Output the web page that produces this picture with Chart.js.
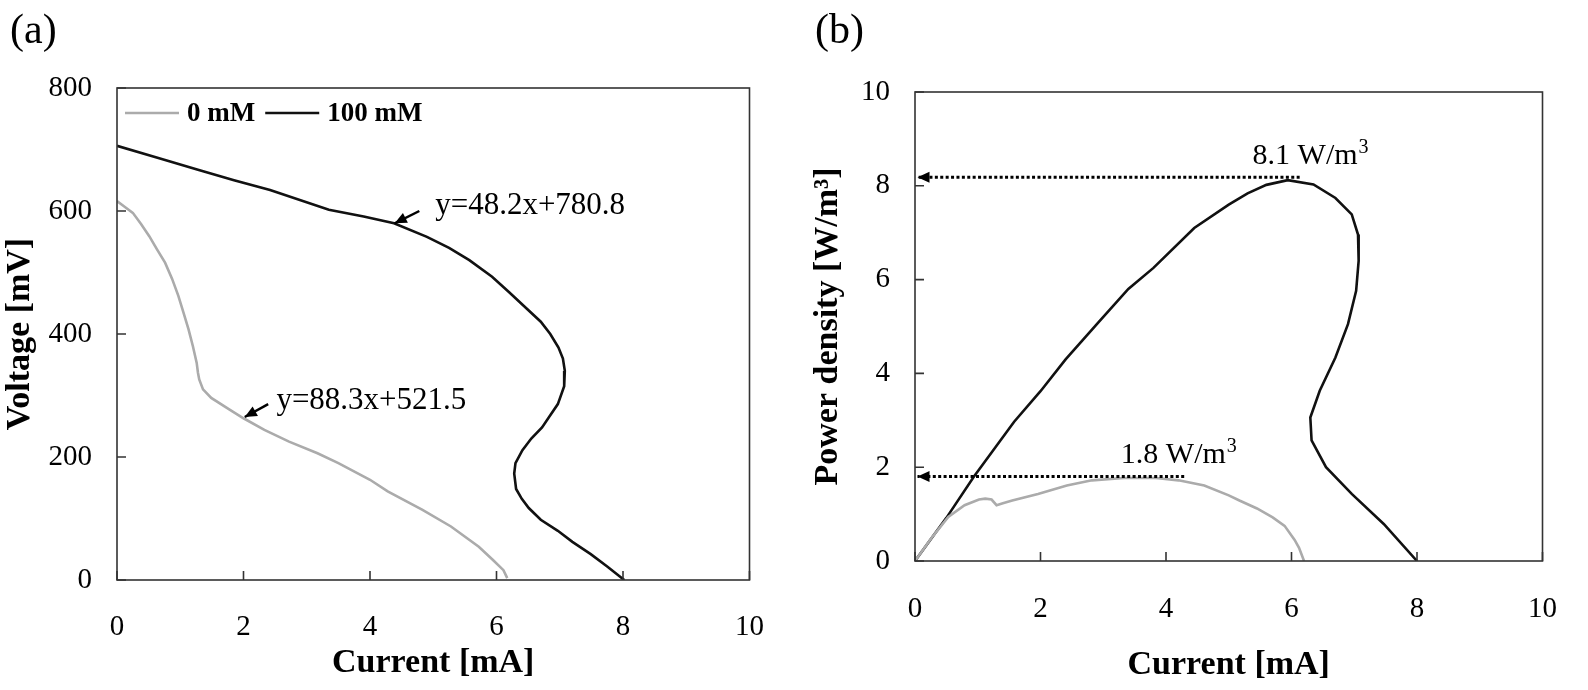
<!DOCTYPE html>
<html>
<head>
<meta charset="utf-8">
<script src="https://cdn.jsdelivr.net/npm/chart.js@4.4.0/dist/chart.umd.min.js"></script>
<style>
  html, body { margin: 0; padding: 0; background: #fff; }
  #wrap { position: relative; width: 1588px; height: 690px; }
  .panel { position: absolute; top: 0; width: 794px; height: 690px; }
</style>
</head>
<body>
<div id="wrap">
  <div class="panel" style="left:0"><canvas id="chartA" width="794" height="690"></canvas></div>
  <div class="panel" style="left:794px"><canvas id="chartB" width="794" height="690"></canvas></div>
</div>
<script>
const serif = "'Liberation Serif', 'Times New Roman', serif";

// tick values
const currentTicks = [0, 2, 4, 6, 8, 10];
const voltageTicks = [0, 200, 400, 600, 800];
const powerTicks = [0, 2, 4, 6, 8, 10];

// (a) polarization curves, current [mA] vs voltage [mV]
const current0 = [0, 0.12, 0.25, 0.38, 0.51, 0.63, 0.76, 0.87, 0.97, 1.05, 1.13, 1.2, 1.26, 1.28, 1.3, 1.36, 1.49, 1.78, 2.0, 2.33, 2.72, 3.17, 3.5, 4.0, 4.28, 4.83, 5.28, 5.72, 5.94, 6.11, 6.17];
const voltage0 = [616, 607, 597, 579, 559, 538, 516, 490, 462, 435, 408, 380, 353, 337, 326, 310, 296, 277, 263, 244, 225, 206, 190, 163, 144, 114, 87, 54, 33, 16, 3];

const current100 = [0, 0.6, 1.28, 1.85, 2.42, 3.35, 3.9, 4.38, 4.9, 5.25, 5.57, 5.93, 6.2, 6.45, 6.7, 6.85, 6.98, 7.05, 7.08, 7.07, 6.97, 6.85, 6.72, 6.55, 6.41, 6.3, 6.28, 6.31, 6.4, 6.51, 6.7, 6.97, 7.2, 7.49, 7.75, 8.02];
const voltage100 = [706, 688, 667, 650, 634, 602, 591, 580, 558, 540, 520, 493, 468, 444, 420, 400, 378, 360, 340, 315, 286, 268, 248, 230, 211, 190, 173, 148, 132, 117, 98, 80, 62, 42, 22, 0];

// (b) power density curves, current [mA] vs power density [W/m3]
const currentP0 = [0, 0.28, 0.53, 0.79, 1.02, 1.12, 1.22, 1.3, 1.4, 1.55, 1.96, 2.42, 2.82, 3.33, 3.84, 4.2, 4.61, 5.0, 5.17, 5.45, 5.7, 5.89, 6.05, 6.12, 6.2];
const power0 = [0, 0.52, 0.94, 1.19, 1.31, 1.33, 1.31, 1.19, 1.23, 1.29, 1.43, 1.61, 1.72, 1.77, 1.77, 1.72, 1.61, 1.4, 1.29, 1.12, 0.93, 0.75, 0.45, 0.28, 0];

const currentP100 = [0, 0.5, 0.94, 1.58, 2.0, 2.4, 2.93, 3.4, 3.8, 4.45, 5.0, 5.3, 5.6, 5.94, 6.35, 6.7, 6.96, 7.06, 7.07, 7.03, 6.9, 6.7, 6.45, 6.3, 6.32, 6.55, 6.96, 7.47, 8.0];
const power100 = [0, 0.92, 1.8, 2.97, 3.62, 4.3, 5.1, 5.8, 6.25, 7.1, 7.6, 7.84, 8.02, 8.12, 8.03, 7.74, 7.39, 6.96, 6.4, 5.76, 5.05, 4.34, 3.63, 3.06, 2.57, 2.0, 1.43, 0.79, 0];

const seriesLabels = ['0 mM', '100 mM'];
const grey = '#ababab';
const black = '#111';

function toPoints(xs, ys) {
    return xs.map(function(x, i) { return {x: x, y: ys[i]}; });
}

function arrowHead(ctx, x1, y1, x2, y2, len, half) {
    const a = Math.atan2(y2 - y1, x2 - x1);
    ctx.beginPath();
    ctx.moveTo(x2, y2);
    ctx.lineTo(x2 - len * Math.cos(a) + half * Math.sin(a), y2 - len * Math.sin(a) - half * Math.cos(a));
    ctx.lineTo(x2 - len * Math.cos(a) - half * Math.sin(a), y2 - len * Math.sin(a) + half * Math.cos(a));
    ctx.closePath();
    ctx.fill();
}

// frame, inward ticks, panel letter, legend and notes
function decorPlugin(cfg) {
    return {
        id: 'decor',
        afterDatasetsDraw: function(chart) {
            const ctx = chart.ctx;
            const area = chart.chartArea;
            const xs = chart.scales.x;
            const ys = chart.scales.y;
            ctx.save();

            ctx.strokeStyle = '#333';
            ctx.lineWidth = 1.6;
            ctx.strokeRect(area.left, area.top, area.right - area.left, area.bottom - area.top);

            ctx.beginPath();
            cfg.xTicks.forEach(function(v) {
                const p = xs.getPixelForValue(v);
                ctx.moveTo(p, area.bottom);
                ctx.lineTo(p, area.bottom - 9);
            });
            cfg.yTicks.forEach(function(v) {
                const p = ys.getPixelForValue(v);
                ctx.moveTo(area.left, p);
                ctx.lineTo(area.left + 9, p);
            });
            ctx.stroke();

            ctx.fillStyle = '#000';
            ctx.font = '42px ' + serif;
            ctx.textBaseline = 'alphabetic';
            ctx.fillText(cfg.letter, cfg.letterX, 43);

            if (cfg.legend) {
                const ly = area.top + 25;
                let lx = area.left + 8;
                ctx.font = 'bold 27px ' + serif;
                ctx.textBaseline = 'middle';
                chart.data.datasets.forEach(function(ds) {
                    ctx.strokeStyle = ds.borderColor;
                    ctx.lineWidth = 2.5;
                    ctx.beginPath();
                    ctx.moveTo(lx, ly);
                    ctx.lineTo(lx + 54, ly);
                    ctx.stroke();
                    ctx.fillStyle = '#000';
                    ctx.fillText(ds.label, lx + 62, ly + 1);
                    lx += 62 + ctx.measureText(ds.label).width + 10;
                });
            }

            (cfg.arrows || []).forEach(function(a) {
                const x1 = xs.getPixelForValue(a.from[0]), y1 = ys.getPixelForValue(a.from[1]);
                const x2 = xs.getPixelForValue(a.to[0]), y2 = ys.getPixelForValue(a.to[1]);
                ctx.strokeStyle = '#000';
                ctx.fillStyle = '#000';
                ctx.lineWidth = a.dotted ? 3 : 2.5;
                ctx.setLineDash(a.dotted ? [3, 2.4] : []);
                ctx.beginPath();
                ctx.moveTo(x1, y1);
                ctx.lineTo(x2, y2);
                ctx.stroke();
                ctx.setLineDash([]);
                arrowHead(ctx, x1, y1, x2, y2, 12, 5.5);
            });

            (cfg.notes || []).forEach(function(n) {
                const x = xs.getPixelForValue(n.at[0]), y = ys.getPixelForValue(n.at[1]);
                ctx.fillStyle = '#000';
                ctx.textBaseline = 'alphabetic';
                ctx.font = n.size + 'px ' + serif;
                ctx.fillText(n.text, x, y);
                if (n.sup) {
                    const w = ctx.measureText(n.text).width;
                    ctx.font = '20px ' + serif;
                    ctx.fillText(n.sup, x + w + 1, y - 11);
                }
            });

            ctx.restore();
        }
    };
}

function axisFont(size, bold) {
    return {family: serif, size: size, weight: bold ? 'bold' : 'normal'};
}

function makeChart(id, spec) {
    const ctx = document.getElementById(id).getContext('2d');
    return new Chart(ctx, {
        type: 'scatter',
        data: {
            datasets: [{
                label: seriesLabels[0],
                data: spec.grey,
                showLine: true,
                borderColor: grey,
                borderWidth: 2.6,
                pointRadius: 0,
                tension: 0
            }, {
                label: seriesLabels[1],
                data: spec.black,
                showLine: true,
                borderColor: black,
                borderWidth: 2.6,
                pointRadius: 0,
                tension: 0
            }]
        },
        options: {
            responsive: false,
            animation: false,
            events: [],
            layout: {padding: spec.padding},
            plugins: {
                legend: {display: false},
                tooltip: {enabled: false}
            },
            scales: {
                x: {
                    type: 'linear',
                    min: 0,
                    max: 10,
                    afterBuildTicks: function(s) { s.ticks = currentTicks.map(function(v) { return {value: v}; }); },
                    afterFit: function(s) { s.height = spec.xHeight; },
                    grid: {display: false, drawTicks: false},
                    border: {display: false},
                    ticks: {font: axisFont(29), color: '#000', padding: spec.xTickPad, maxRotation: 0},
                    title: {display: true, text: 'Current [mA]', font: axisFont(34, true), color: '#000', padding: {top: 0, bottom: spec.xTitlePad}}
                },
                y: {
                    type: 'linear',
                    min: spec.yMin,
                    max: spec.yMax,
                    afterBuildTicks: function(s) { s.ticks = spec.yTicks.map(function(v) { return {value: v}; }); },
                    afterFit: function(s) { s.width = spec.yWidth; },
                    grid: {display: false, drawTicks: false},
                    border: {display: false},
                    ticks: {font: axisFont(29), color: '#000', padding: 25},
                    title: {display: true, text: spec.yTitle, font: axisFont(34, true), color: '#000', padding: {top: spec.yTitlePad, bottom: 0}}
                }
            }
        },
        plugins: [decorPlugin(spec.decor)]
    });
}

makeChart('chartA', {
    grey: toPoints(current0, voltage0),
    black: toPoints(current100, voltage100),
    padding: {top: 88, right: 32, bottom: 0, left: 0},
    xHeight: 110,
    yWidth: 117,
    xTickPad: 30,
    xTitlePad: 6,
    yTitlePad: 0,
    yMin: 0,
    yMax: 800,
    yTicks: voltageTicks,
    yTitle: 'Voltage [mV]',
    decor: {
        letter: '(a)',
        letterX: 10,
        xTicks: currentTicks,
        yTicks: voltageTicks,
        legend: true,
        arrows: [
            {from: [4.78, 600], to: [4.39, 580]},
            {from: [2.39, 286], to: [2.02, 265]}
        ],
        notes: [
            {text: 'y=48.2x+780.8', at: [5.03, 595], size: 31},
            {text: 'y=88.3x+521.5', at: [2.52, 278], size: 31}
        ]
    }
});

makeChart('chartB', {
    grey: toPoints(currentP0, power0),
    black: toPoints(currentP100, power100),
    padding: {top: 92, right: 24, bottom: 0, left: 0},
    xHeight: 129,
    yWidth: 121,
    xTickPad: 31,
    xTitlePad: 4,
    yTitlePad: 14,
    yMin: 0,
    yMax: 10,
    yTicks: powerTicks,
    yTitle: 'Power density [W/m\u00B3]',
    decor: {
        letter: '(b)',
        letterX: 21,
        xTicks: currentTicks,
        yTicks: powerTicks,
        legend: false,
        arrows: [
            {from: [6.13, 8.18], to: [0.04, 8.18], dotted: true},
            {from: [4.29, 1.8], to: [0.04, 1.8], dotted: true}
        ],
        notes: [
            {text: '8.1 W/m', sup: '3', at: [5.38, 8.47], size: 30},
            {text: '1.8 W/m', sup: '3', at: [3.28, 2.09], size: 30}
        ]
    }
});
</script>
</body>
</html>
